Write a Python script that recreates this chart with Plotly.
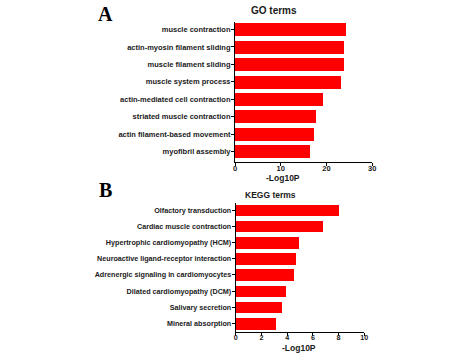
import plotly.graph_objects as go

go_terms = ["muscle contraction", "actin-myosin filament sliding", "muscle filament sliding",
            "muscle system process", "actin-mediated cell contraction", "striated muscle contraction",
            "actin filament-based movement", "myofibril assembly"]
go_values = [24.25, 23.8, 23.8, 23.25, 19.3, 17.6, 17.35, 16.3]

kegg_terms = ["Olfactory transduction", "Cardiac muscle contraction", "Hypertrophic cardiomyopathy (HCM)",
              "Neuroactive ligand-receptor interaction", "Adrenergic signaling in cardiomyocytes",
              "Dilated cardiomyopathy (DCM)", "Salivary secretion", "Mineral absorption"]
kegg_values = [7.97, 6.75, 4.9, 4.65, 4.5, 3.9, 3.55, 3.08]

go_ticks = [0, 10, 20, 30]
kegg_ticks = [0, 2, 4, 6, 8, 10]

W, H = 474, 353
RED = "#FF0000"
TXT = "#1a1a1a"
FONT = "Liberation Sans"

fig = go.Figure()
fig.add_trace(go.Bar(x=go_values[::-1], y=go_terms[::-1], orientation="h",
                     marker=dict(color=RED, line=dict(width=0)), width=0.75,
                     xaxis="x", yaxis="y", showlegend=False))
fig.add_trace(go.Bar(x=kegg_values[::-1], y=kegg_terms[::-1], orientation="h",
                     marker=dict(color=RED, line=dict(width=0)), width=0.71,
                     xaxis="x2", yaxis="y2", showlegend=False))

def px_x(p):
    return p / W

def px_y(p):
    return 1 - p / H

def axis_common(size):
    return dict(showline=True, linecolor="black", linewidth=1, ticks="outside",
                ticklen=3, tickwidth=1, tickcolor="black", showgrid=False,
                zeroline=False, fixedrange=True,
                tickfont=dict(family=FONT, size=size, color=TXT, weight="bold"))

fig.update_layout(
    width=W, height=H, margin=dict(l=0, r=0, t=0, b=0),
    paper_bgcolor="white", plot_bgcolor="white",
    bargap=0,
    xaxis=dict(domain=[px_x(236), px_x(375)], range=[0, 30], tickvals=go_ticks,
               anchor="y", ticklabelstandoff=-4, **axis_common(7.5)),
    yaxis=dict(domain=[px_y(161.7), px_y(21.7)], range=[-0.59, 7.45], type="category",
               anchor="x", ticklabelstandoff=-1, **axis_common(7.5)),
    xaxis2=dict(domain=[px_x(236.7), px_x(367)], range=[0, 10], tickvals=kegg_ticks,
                anchor="y2", ticklabelstandoff=-4, **axis_common(7.2)),
    yaxis2=dict(domain=[px_y(331.7), px_y(202.7)], range=[-0.5, 7.45], type="category",
                anchor="x2", ticklabelstandoff=-1, **axis_common(7.2)),
)

ann = [
    dict(text="<b>GO terms</b>", x=px_x(275), y=px_y(11), font=dict(family=FONT, size=10, color=TXT)),
    dict(text="<b>KEGG terms</b>", x=px_x(272), y=px_y(195.5), font=dict(family=FONT, size=8.5, color=TXT)),
    dict(text="<b>-Log10P</b>", x=px_x(285), y=px_y(177.5), font=dict(family=FONT, size=8.5, color=TXT)),
    dict(text="<b>-Log10P</b>", x=px_x(301), y=px_y(347.5), font=dict(family=FONT, size=8.5, color=TXT)),
    dict(text="<b>A</b>", x=px_x(105), y=px_y(14), font=dict(family="Liberation Serif", size=20, color="black")),
    dict(text="<b>B</b>", x=px_x(105), y=px_y(190), font=dict(family="Liberation Serif", size=20, color="black")),
]
for a in ann:
    fig.add_annotation(xref="paper", yref="paper", xanchor="center", yanchor="middle",
                       showarrow=False, **a)

fig.write_html("out.html")
